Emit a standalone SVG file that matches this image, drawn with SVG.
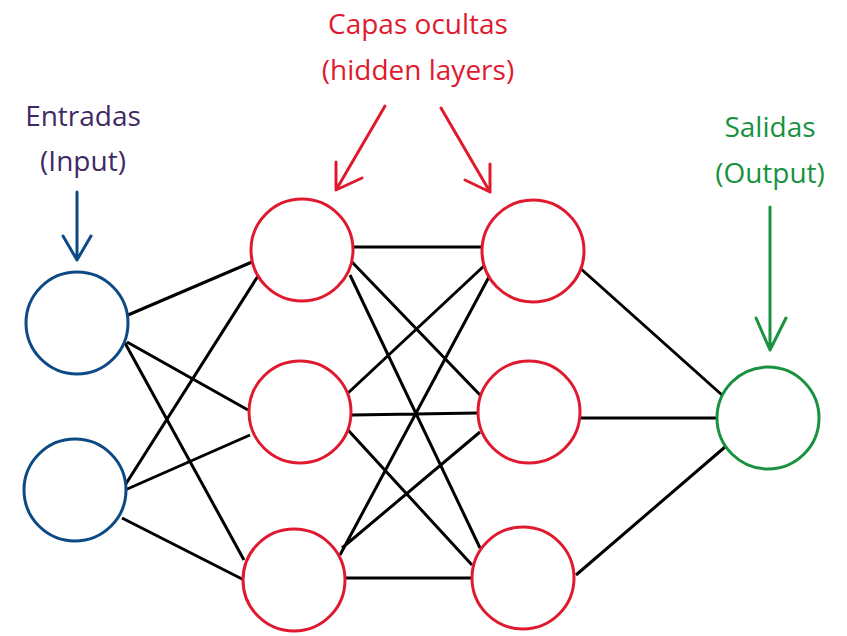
<svg xmlns="http://www.w3.org/2000/svg" width="847" height="636" viewBox="0 0 847 636">
<style>
.e{stroke:#000;stroke-width:3}
.n{fill:#fff;stroke-width:3}
.b{stroke:#0d4a85}.r{stroke:#e01a2e}.g{stroke:#18923f}
text{font-family:"Open Sans","Noto Sans",sans-serif;font-size:28px;text-anchor:middle}
.a{fill:none;stroke-width:3;stroke-linecap:round;stroke-linejoin:round}
</style>
<rect width="847" height="636" fill="#fff"/>
<g id="connectors">
<path class="e" d="M128 315L252 262M127 342L248 410M125 343L244 560M122 490L258 276M125 490L250 435M122 518L244 580
M354 247L481 247M352 262L480 395M350 275L480 548M348 393L485 265M352 415L478 413M348 430L472 565M340 555L490 275M342 548L480 432M346 578L471 578
M580 268L722 395M580 418L716 418M576 575L725 447"/>
</g>
<g id="in1"><circle class="n b" cx="77" cy="323" r="51"/></g>
<g id="in2"><circle class="n b" cx="75" cy="490" r="51"/></g>
<g id="h1a"><circle class="n r" cx="302" cy="250" r="51"/></g>
<g id="h1b"><circle class="n r" cx="300" cy="412" r="51"/></g>
<g id="h1c"><circle class="n r" cx="294" cy="580" r="51"/></g>
<g id="h2a"><circle class="n r" cx="533" cy="251" r="51"/></g>
<g id="h2b"><circle class="n r" cx="529" cy="412" r="51"/></g>
<g id="h2c"><circle class="n r" cx="523" cy="578" r="51"/></g>
<g id="out"><circle class="n g" cx="768" cy="418" r="51"/></g>
<g id="labels">
<text x="83" y="126" fill="#3f2a66">Entradas</text>
<text x="83" y="171" fill="#3f2a66">(Input)</text>
<text x="418" y="34" fill="#e01a2e">Capas ocultas</text>
<text x="418" y="80" fill="#e01a2e">(hidden layers)</text>
<text x="770" y="137" fill="#18923f">Salidas</text>
<text x="770" y="183" fill="#18923f">(Output)</text>
</g>
<g id="arrows">
<path class="a b" d="M77 192V260M63 236L77 260L91 236"/>
<path class="a r" d="M385 106L336 190M336 162L336 190L362 178"/>
<path class="a r" d="M441 108L490 192M465 180L490 192L490 164"/>
<path class="a g" d="M770 207V350M756 318L770 350L786 318"/>
</g>
</svg>
